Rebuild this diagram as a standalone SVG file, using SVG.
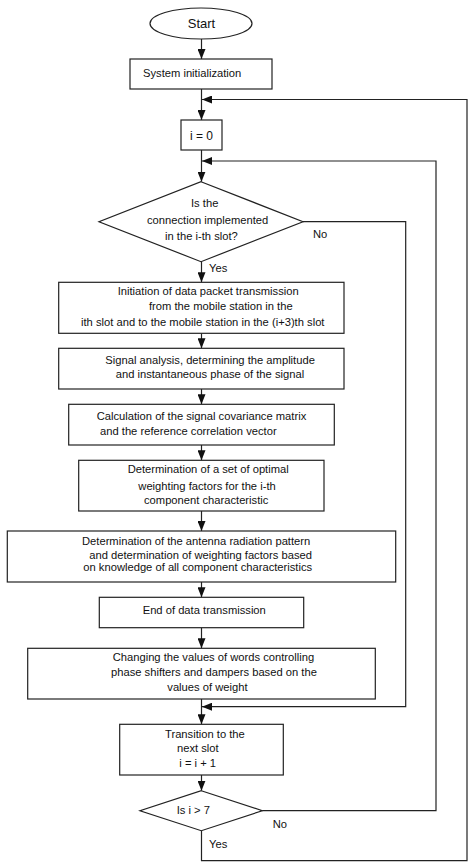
<svg xmlns="http://www.w3.org/2000/svg" width="474" height="868" viewBox="0 0 474 868">
<style>
.s{fill:#fff;stroke:#222;stroke-width:1.2}
.c{fill:none;stroke:#222;stroke-width:1.2}
text{font-family:"Liberation Sans",Arial,sans-serif;font-size:11.2px;fill:#111}
</style>
<defs>
<marker id="a" markerUnits="userSpaceOnUse" markerWidth="10" markerHeight="8" refX="10" refY="4" orient="auto">
<path d="M0,0 L10,4 L0,8 z" fill="#111"/>
</marker>
</defs>
<rect width="474" height="868" fill="#fff"/>
<g id="connectors">
<path class="c" d="M201.5,39 V59" marker-end="url(#a)"/>
<path class="c" d="M201.5,89 V120" marker-end="url(#a)"/>
<path class="c" d="M201.5,150 V181.7" marker-end="url(#a)"/>
<path class="c" d="M201.5,261.7 V282.3" marker-end="url(#a)"/>
<path class="c" d="M201.5,333.3 V348.3" marker-end="url(#a)"/>
<path class="c" d="M201.5,389 V404.3" marker-end="url(#a)"/>
<path class="c" d="M201.5,445 V460.3" marker-end="url(#a)"/>
<path class="c" d="M201.5,511 V531" marker-end="url(#a)"/>
<path class="c" d="M201.5,582 V597.3" marker-end="url(#a)"/>
<path class="c" d="M201.5,627.7 V648.3" marker-end="url(#a)"/>
<path class="c" d="M201.5,699 V724.3" marker-end="url(#a)"/>
<path class="c" d="M201.5,775 V790.7" marker-end="url(#a)"/>
<path class="c" d="M303,221.7 H405.7 V706.7 H202" marker-end="url(#a)"/>
<path class="c" d="M262.3,810.7 H436 V161 H202" marker-end="url(#a)"/>
<path class="c" d="M201.5,830.7 V860.7 H467 V99.5 H202" marker-end="url(#a)"/>
<text x="313" y="238">No</text>
<text x="209" y="271.7">Yes</text>
<text x="272.7" y="828.3">No</text>
<text x="209" y="848.3">Yes</text>
</g>
<g id="start">
<ellipse class="s" cx="201" cy="23.5" rx="51" ry="15.5"/>
<text x="201.5" y="28" text-anchor="middle" style="font-size:13px">Start</text>
</g>
<g id="init">
<rect class="s" x="130" y="59" width="142" height="30"/>
<text x="143" y="76.5">System initialization</text>
</g>
<g id="i0">
<rect class="s" x="181" y="120" width="41" height="30"/>
<text x="201.5" y="139.5" text-anchor="middle" style="font-size:12px">i = 0</text>
</g>
<g id="dec1">
<polygon class="s" points="201,181.7 303,221.7 201,261.7 99,221.7"/>
<text x="191" y="207">Is the</text>
<text x="147" y="224">connection implemented</text>
<text x="165" y="239.5">in the i-th slot?</text>
</g>
<g id="box1">
<rect class="s" x="58.7" y="282.3" width="285.3" height="51"/>
<text x="117.7" y="294.8">Initiation of data packet transmission</text>
<text x="149" y="310.3">from the mobile station in the</text>
<text x="81" y="325.5">ith slot and to the mobile station in the (i+3)th slot</text>
</g>
<g id="box2">
<rect class="s" x="58.7" y="348.3" width="285.3" height="40.7"/>
<text x="105.3" y="363.8">Signal analysis, determining the amplitude</text>
<text x="115.7" y="378">and instantaneous phase of the signal</text>
</g>
<g id="box3">
<rect class="s" x="68.7" y="404.3" width="265.6" height="40.7"/>
<text x="96.7" y="419.5">Calculation of the signal covariance matrix</text>
<text x="100" y="434.5">and the reference correlation vector</text>
</g>
<g id="box4">
<rect class="s" x="78.7" y="460.3" width="245.3" height="50.7"/>
<text x="127.7" y="473">Determination of a set of optimal</text>
<text x="138.3" y="489.5">weighting factors for the i-th</text>
<text x="144" y="503.5">component characteristic</text>
</g>
<g id="box5">
<rect class="s" x="7.3" y="531" width="388.4" height="51"/>
<text x="82" y="545.3">Determination of the antenna radiation pattern</text>
<text x="89.3" y="558.5">and determination of weighting factors based</text>
<text x="83.3" y="570.5">on knowledge of all component characteristics</text>
</g>
<g id="box6">
<rect class="s" x="99.3" y="597.3" width="204.4" height="30.4"/>
<text x="142.7" y="614.3">End of data transmission</text>
</g>
<g id="box7">
<rect class="s" x="27.7" y="648.3" width="347.6" height="50.7"/>
<text x="112.7" y="661">Changing the values of words controlling</text>
<text x="111" y="676">phase shifters and dampers based on the</text>
<text x="167.3" y="691.3">values of weight</text>
</g>
<g id="box8">
<rect class="s" x="119.7" y="724.3" width="163.6" height="50.7"/>
<text x="165" y="738">Transition to the</text>
<text x="177" y="752">next slot</text>
<text x="179.3" y="767">i = i + 1</text>
</g>
<g id="dec2">
<polygon class="s" points="201.3,790.7 262.3,810.7 201.3,830.7 140,810.7"/>
<text x="176.7" y="814.3">Is i &gt; 7</text>
</g>
</svg>
